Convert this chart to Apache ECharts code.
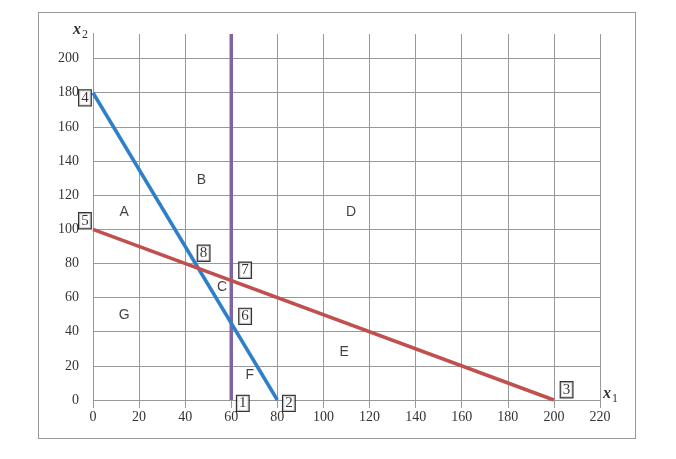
<!DOCTYPE html>
<html><head><meta charset="utf-8">
<script src="https://cdn.jsdelivr.net/npm/echarts@6/dist/echarts.min.js"></script>
<style>html,body{margin:0;padding:0;background:#fff}#c{width:676px;height:459px}
#b{position:absolute;left:38px;top:12px;width:598px;height:427px;border:1px solid #999;box-sizing:border-box}</style>
</head><body><div id="b"></div><div id="c" style="position:absolute;left:0;top:0"></div>
<script>
var line1 = [[0,180],[80,0]];
var line2 = [[0,100],[200,0]];
var line3 = [[60,0],[60,215]];
var regions = [['A',13.5,110],['B',47,128.6],['C',56,66],['D',112,110],['E',109,28],['F',68,14.6],['G',13.5,50]];
var points = [['1',65,-2],['2',85,-2],['3',205.5,6],['4',-3.5,177],['5',-3.5,105],['6',66,49],['7',66,76],['8',48,86]];
var chart = echarts.init(document.getElementById('c'));
var serif = 'Liberation Serif';
chart.setOption({
  animation:false,
  grid:{left:93,right:76,top:33,bottom:59},
  xAxis:{type:'value',min:0,max:220,interval:20,
    axisLine:{show:false},axisTick:{show:true,length:8,lineStyle:{color:'#999'}},
    axisLabel:{color:'#333',fontFamily:serif,fontSize:14,margin:10},
    splitLine:{lineStyle:{color:'#999',width:1}}},
  yAxis:{type:'value',min:0,max:215,interval:20,
    axisLine:{show:false},axisTick:{show:false},
    axisLabel:{color:'#333',fontFamily:serif,fontSize:14,margin:14,showMaxLabel:false},
    splitLine:{lineStyle:{color:'#999',width:1}}},
  graphic:[
    {type:'rect',left:94,top:32,z:100,shape:{width:510,height:2},style:{fill:'#fff'}},
    {type:'text',left:73,top:22,z:101,style:{text:'x',font:'italic bold 16px Liberation Serif',fill:'#333'}},
    {type:'text',left:82,top:29,z:101,style:{text:'2',font:'12px Liberation Serif',fill:'#333'}},
    {type:'text',left:603,top:386,style:{text:'x',font:'italic bold 16px Liberation Serif',fill:'#333'}},
    {type:'text',left:612,top:393,style:{text:'1',font:'12px Liberation Serif',fill:'#333'}}
  ],
  series:[
    {type:'line',data:line3,symbol:'none',lineStyle:{color:'#8064A2',width:3.5},z:3},
    {type:'line',data:line1,symbol:'none',lineStyle:{color:'#2F7FC8',width:3.5},z:4},
    {type:'line',data:line2,symbol:'none',lineStyle:{color:'#C0504D',width:3.5},z:4},
    {type:'scatter',data:regions.map(function(r){return {value:[r[1],r[2]],name:r[0]};}),
      symbolSize:0,z:5,label:{show:true,position:'inside',formatter:'{b}',fontFamily:'Liberation Sans',fontSize:14,color:'#111'}},
    {type:'scatter',clip:false,data:points.map(function(r){return {value:[r[1],r[2]],name:r[0]};}),
      symbolSize:0,z:6,label:{show:true,position:'inside',formatter:'{b}',fontFamily:serif,fontSize:15,color:'#000',
      borderColor:'#000',borderWidth:1.2,backgroundColor:'#fff',padding:[0,2,0,2],lineHeight:15}}
  ]
});
</script></body></html>
